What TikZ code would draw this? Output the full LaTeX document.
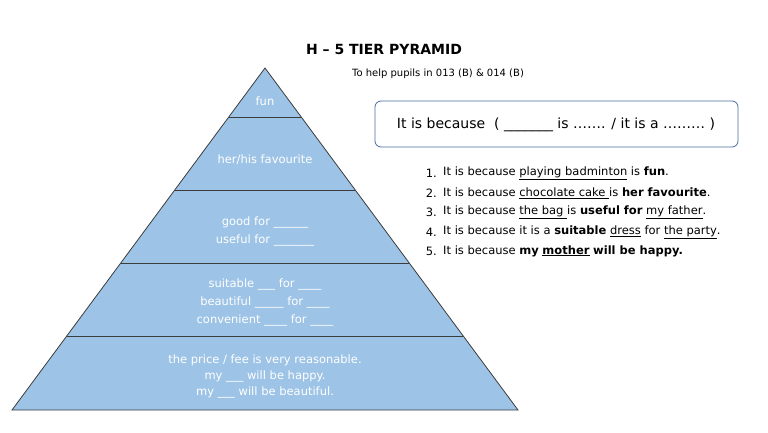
\documentclass[tikz,border=0pt]{standalone}
\usepackage{fontspec}
\setmainfont{DejaVu Sans}
\begin{document}
\begin{tikzpicture}[x=1pt,y=-1pt,
  tier/.style={text=white,font=\fontsize{11.5}{16}\selectfont,align=center},
  li/.style={anchor=west,font=\fontsize{11.5}{14}\selectfont,inner sep=0pt}]
\useasboundingbox (0,0) rectangle (768,433);
\definecolor{pyr}{RGB}{157,195,230}
\definecolor{edge}{RGB}{60,60,60}
\coordinate (apex) at (265,68);
\coordinate (bl) at (12,410);
\coordinate (br) at (518,410);
\fill[pyr] (apex) -- (bl) -- (br) -- cycle;
\foreach \y/\l/\r in {117/228.8/301.2,190/175/355,263/121/409,336/67/463}
  \draw[edge,line width=0.8pt] (\l,\y) -- (\r,\y);
\draw[edge,line width=0.8pt] (apex) -- (bl) -- (br) -- cycle;
\node[tier] (t1) at (265,101) {fun};
\node[tier] (t2) at (265,160) {her/his favourite};
\node[tier] (t3) at (265,231) {good for \_\_\_\_\_\_\\[2pt]useful for \_\_\_\_\_\_\_};
\node[tier] (t4) at (265,302) {suitable \_\_\_ for \_\_\_\_\\[2pt]beautiful \_\_\_\_\_ for \_\_\_\_\\[2pt]convenient \_\_\_\_ for \_\_\_\_};
\node[tier] (t5) at (265,376) {the price / fee is very reasonable.\\my \_\_\_ will be happy.\\my \_\_\_ will be beautiful.};
\node[font=\fontsize{14}{16}\selectfont\bfseries] (title) at (384,49) {H – 5 TIER PYRAMID};
\node[font=\fontsize{10}{12}\selectfont] (sub) at (438,74) {To help pupils in 013 (B) \& 014 (B)};
\draw[rounded corners=6pt,draw={rgb,255:red,70;green,110;blue,160},line width=0.8pt] (375,101) rectangle (738,147);
\node[font=\fontsize{14}{16}\selectfont] (box) at (556,125) {It is because~ ( \_\_\_\_\_\_\_ is ……. / it is a ……… )};
\foreach \n/\y in {1/173,2/193,3/212,4/232,5/251} \node[li,anchor=east] (n\n) at (437,\y) {\n.};
\node[li] (l1) at (443,173) {It is because \underline{playing badminton} is \textbf{fun}.};
\node[li] (l2) at (443,193) {It is because \underline{chocolate cake }is \textbf{her favourite}.};
\node[li] (l3) at (443,212) {It is because \underline{the bag }is \textbf{useful for} \underline{my father}.};
\node[li] (l4) at (443,232) {It is because it is a \textbf{suitable} \underline{dress} for \underline{the party}.};
\node[li] (l5) at (443,251) {It is because \textbf{my} \underline{\textbf{mother}} \textbf{will be happy.}};
\end{tikzpicture}
\end{document}
